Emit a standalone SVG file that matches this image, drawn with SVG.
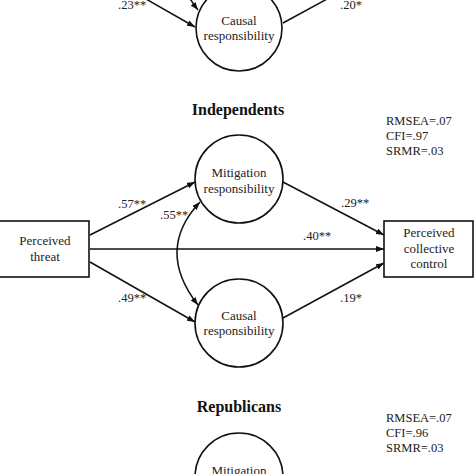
<svg xmlns="http://www.w3.org/2000/svg" width="474" height="474" viewBox="0 0 474 474">
<defs>
<marker id="ah" viewBox="0 0 8 6" refX="8" refY="3" markerWidth="8" markerHeight="6" markerUnits="userSpaceOnUse" orient="auto-start-reverse">
<path d="M0,0 L8,3 L0,6 z" fill="#111"/>
</marker>
<style>
.n{fill:#fff;stroke:#111;stroke-width:1.6}
.t{font-family:"Liberation Serif","Times New Roman",serif;font-size:13px;fill:#222;text-anchor:middle}
.l{font-family:"Liberation Serif","Times New Roman",serif;font-size:12.5px;fill:#222}
.h{font-family:"Liberation Serif","Times New Roman",serif;font-size:16px;font-weight:bold;fill:#111;text-anchor:middle}
.c{stroke:#111;stroke-width:1.5;fill:none;marker-end:url(#ah)}
.cc{stroke:#111;stroke-width:1.5;fill:none;marker-end:url(#ah);marker-start:url(#ah)}
</style>
</defs>
<rect width="474" height="474" fill="#fff"/>
<g id="connectors">
<line class="c" x1="90" y1="-33" x2="195" y2="27"/>
<line class="c" x1="283" y1="23" x2="384" y2="-32"/>
<path class="cc" d="M200,-93 Q155,-45 198,10"/>
<line class="c" x1="90" y1="235" x2="195" y2="182"/>
<line class="c" x1="90" y1="262" x2="195" y2="322"/>
<line class="c" x1="90" y1="249" x2="384" y2="249"/>
<line class="c" x1="283" y1="182" x2="384" y2="235"/>
<line class="c" x1="283" y1="318" x2="384" y2="263"/>
<path class="cc" d="M200,202 Q155,250 198,305"/>
</g>
<g id="top-causal">
<circle class="n" cx="239" cy="28" r="43"/>
<text class="t" x="239" y="25">Causal</text>
<text class="t" x="239" y="40">responsibility</text>
</g>
<g id="top-labels">
<text class="l" x="118" y="9">.23**</text>
<text class="l" x="340" y="9">.20*</text>
</g>
<g id="ind-title">
<text class="h" x="238" y="115">Independents</text>
<text class="l" x="386" y="125" font-size="13">RMSEA=.07</text>
<text class="l" x="386" y="140" font-size="13">CFI=.97</text>
<text class="l" x="386" y="155" font-size="13">SRMR=.03</text>
</g>
<g id="ind-threat">
<rect class="n" x="-1" y="221" width="90" height="56"/>
<text class="t" x="45" y="245">Perceived</text>
<text class="t" x="45" y="261">threat</text>
</g>
<g id="ind-control">
<rect class="n" x="384" y="221" width="89" height="56"/>
<text class="t" x="429" y="237">Perceived</text>
<text class="t" x="429" y="253">collective</text>
<text class="t" x="429" y="268">control</text>
</g>
<g id="ind-mitigation">
<circle class="n" cx="239" cy="179" r="44"/>
<text class="t" x="239" y="177">Mitigation</text>
<text class="t" x="239" y="193">responsibility</text>
</g>
<g id="ind-causal">
<circle class="n" cx="239" cy="323" r="44"/>
<text class="t" x="239" y="320">Causal</text>
<text class="t" x="239" y="335">responsibility</text>
</g>
<g id="ind-labels">
<text class="l" x="118" y="208">.57**</text>
<text class="l" x="160" y="219">.55**</text>
<text class="l" x="341" y="207">.29**</text>
<text class="l" x="303" y="240">.40**</text>
<text class="l" x="118" y="302">.49**</text>
<text class="l" x="340" y="302">.19*</text>
</g>
<g id="rep-title">
<text class="h" x="239" y="412">Republicans</text>
<text class="l" x="386" y="422" font-size="13">RMSEA=.07</text>
<text class="l" x="386" y="437" font-size="13">CFI=.96</text>
<text class="l" x="386" y="452" font-size="13">SRMR=.03</text>
</g>
<g id="rep-mitigation">
<circle class="n" cx="239" cy="477" r="44"/>
<text class="t" x="239" y="475">Mitigation</text>
</g>
</svg>
